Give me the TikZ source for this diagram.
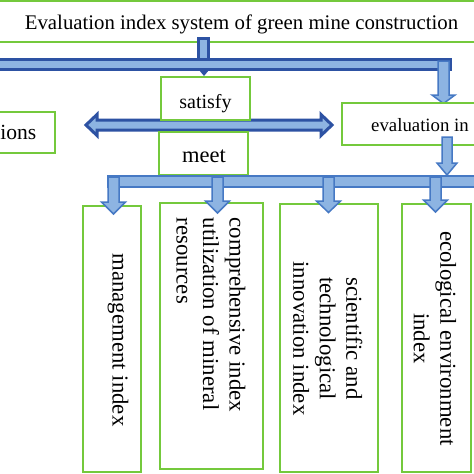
\documentclass[tikz,border=0pt]{standalone}
\usepackage{fontspec}
\setmainfont{Liberation Serif}
\definecolor{boxgreen}{HTML}{74C93C}
\definecolor{lightblue}{HTML}{8DB4E2}
\definecolor{darkblue}{HTML}{2D52A3}
\definecolor{midblue}{HTML}{4679C4}
\tikzset{
  gbox/.style={draw=boxgreen, line width=1.6pt, fill=white, inner sep=0pt},
  darr/.style={draw=darkblue, line width=3pt, fill=lightblue, line join=miter},
  marr/.style={draw=midblue, line width=1.5pt, fill=lightblue, line join=miter},
  vlbl/.style={font=\fontsize{22.8}{26.5}\selectfont, rotate=-90, inner sep=0pt},
  txt/.style={inner sep=0pt},
}
\newcommand\dnarrow[4]{%
  \draw[marr] (#1-5.5,#2) -- (#1+5.5,#2) -- (#1+5.5,#3) -- (#1+12,#3) -- (#1,#4)
    -- (#1-12,#3) -- (#1-5.5,#3) -- cycle;}
\begin{document}
\begin{tikzpicture}[x=1pt,y=-1pt]
\useasboundingbox (0,0) rectangle (474,474);
\clip (0,0) rectangle (474,474);
\fill[white] (0,0) rectangle (474,474);
% title box
\node[gbox, minimum width=500, minimum height=41] (titlebox) at (240,21.5) {};
\node[txt, font=\fontsize{20.8}{24}\selectfont] (title) at (241.5,24.3)
  {Evaluation index system of green mine construction};
% top stem and main bar
\draw[darr] (198.5,38.5) rectangle (208.5,60);
\draw[darr] (-10,59.5) -- (450.5,59.5) -- (450.5,69) -- (-10,69) -- cycle;
\fill[darkblue] (199,70) -- (209,70) -- (204,76) -- cycle;
% right down arrow to evaluation box
\draw[marr] (438,61) -- (449,61) -- (449,95) -- (455,95) -- (443.5,103.5)
  -- (432,95) -- (438,95) -- cycle;
% double arrow
\draw[darr] (86,125) -- (97,114.5) -- (97,120) -- (321,120) -- (321,114.5)
  -- (332,125) -- (321,135.5) -- (321,130) -- (97,130) -- (97,135.5) -- cycle;
% middle boxes
\node[gbox, minimum width=89, minimum height=43] (satisfybox) at (205.5,98.5) {};
\node[txt, font=\fontsize{20}{24}\selectfont] (satisfy) at (205.5,103.4) {satisfy};
\node[gbox, minimum width=89, minimum height=43] (meetbox) at (203.5,153.5) {};
\node[txt, font=\fontsize{22.5}{26}\selectfont] (meet) at (204,156.5) {meet};
\node[gbox, minimum width=70, minimum height=41] (leftbox) at (20,132.5) {};
\node[txt, font=\fontsize{21.6}{26}\selectfont, anchor=east] (ions) at (36.5,132.6) {ions};
\node[gbox, minimum width=150, minimum height=42] (evalbox) at (417,124) {};
\node[txt, font=\fontsize{18.8}{22}\selectfont, anchor=west] (evaltxt) at (371,125.4) {evaluation in};
% lower boxes
\node[gbox, minimum width=58, minimum height=266] (b1) at (112,339) {};
\node[gbox, minimum width=103, minimum height=266] (b2) at (211.5,336) {};
\node[gbox, minimum width=98, minimum height=268] (b3) at (329,338) {};
\node[gbox, minimum width=69, minimum height=268] (b4) at (436.5,338) {};
\node[vlbl] (t1) at (118,340) {management index};
\node[vlbl, align=left] (t2) at (211,315) {comprehensive index\\utilization of mineral\\resources};
\node[vlbl, align=center] (t3) at (327.8,338.5) {scientific and\\technological\\innovation index};
\node[vlbl, align=center] (t4) at (435,338.5) {ecological environment\\index};
% lower bar
\draw[marr] (107.5,176) rectangle (490,187);
% arrow from evaluation box to lower bar
\draw[marr] (442,137) -- (452,137) -- (452,163) -- (457,163) -- (447,175)
  -- (437,163) -- (442,163) -- cycle;
% down arrows into lower boxes
\dnarrow{113.5}{177}{202}{214}
\dnarrow{217.5}{177}{201}{213}
\dnarrow{328.5}{177}{201}{212.5}
\dnarrow{435.5}{177}{200}{212}
\end{tikzpicture}
\end{document}
